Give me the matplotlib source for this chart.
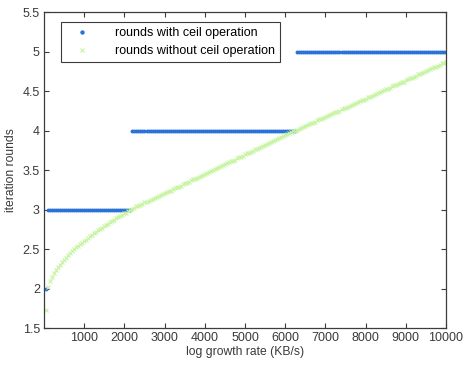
import matplotlib
matplotlib.use("Agg")
import matplotlib.pyplot as plt
import numpy as np

plt.rcParams["font.family"] = ["Liberation Sans", "DejaVu Sans"]

# growth rate samples (KB/s), every 50 from 50 to 10000
rate = np.arange(50, 10001, 50)

# rounds without ceil operation
rounds_raw = [
    1.73, 2.02, 2.09, 2.14, 2.19, 2.23, 2.27, 2.30, 2.33, 2.36,
    2.39, 2.42, 2.45, 2.47, 2.50, 2.52, 2.54, 2.56, 2.58, 2.60,
    2.62, 2.64, 2.66, 2.68, 2.70, 2.72, 2.74, 2.75, 2.77, 2.79,
    2.80, 2.82, 2.84, 2.85, 2.87, 2.89, 2.90, 2.92, 2.93, 2.95,
    2.96, 2.98, 2.99, 3.01, 3.02, 3.04, 3.05, 3.06, 3.07, 3.09,
    3.10, 3.11, 3.12, 3.13, 3.15, 3.16, 3.17, 3.18, 3.19, 3.21,
    3.22, 3.23, 3.24, 3.26, 3.27, 3.28, 3.29, 3.30, 3.32, 3.33,
    3.34, 3.35, 3.37, 3.38, 3.39, 3.40, 3.41, 3.43, 3.44, 3.45,
    3.46, 3.48, 3.49, 3.50, 3.51, 3.52, 3.54, 3.55, 3.56, 3.57,
    3.59, 3.60, 3.61, 3.62, 3.63, 3.65, 3.66, 3.67, 3.68, 3.70,
    3.71, 3.72, 3.73, 3.74, 3.76, 3.77, 3.78, 3.79, 3.81, 3.82,
    3.83, 3.84, 3.86, 3.87, 3.88, 3.89, 3.90, 3.92, 3.93, 3.94,
    3.95, 3.97, 3.98, 3.99, 4.00, 4.01, 4.02, 4.03, 4.05, 4.06,
    4.07, 4.08, 4.09, 4.10, 4.11, 4.13, 4.14, 4.15, 4.16, 4.17,
    4.18, 4.20, 4.21, 4.22, 4.23, 4.24, 4.25, 4.27, 4.28, 4.29,
    4.30, 4.31, 4.32, 4.33, 4.35, 4.36, 4.37, 4.38, 4.39, 4.40,
    4.42, 4.43, 4.44, 4.45, 4.46, 4.47, 4.49, 4.50, 4.51, 4.52,
    4.53, 4.54, 4.56, 4.57, 4.58, 4.59, 4.60, 4.61, 4.62, 4.64,
    4.65, 4.66, 4.67, 4.68, 4.69, 4.71, 4.72, 4.73, 4.74, 4.75,
    4.76, 4.78, 4.79, 4.80, 4.81, 4.82, 4.83, 4.85, 4.86, 4.87,
]

# rounds with ceil operation
rounds_ceil = [
    2, 3, 3, 3, 3, 3, 3, 3, 3, 3,
    3, 3, 3, 3, 3, 3, 3, 3, 3, 3,
    3, 3, 3, 3, 3, 3, 3, 3, 3, 3,
    3, 3, 3, 3, 3, 3, 3, 3, 3, 3,
    3, 3, 3, 4, 4, 4, 4, 4, 4, 4,
    4, 4, 4, 4, 4, 4, 4, 4, 4, 4,
    4, 4, 4, 4, 4, 4, 4, 4, 4, 4,
    4, 4, 4, 4, 4, 4, 4, 4, 4, 4,
    4, 4, 4, 4, 4, 4, 4, 4, 4, 4,
    4, 4, 4, 4, 4, 4, 4, 4, 4, 4,
    4, 4, 4, 4, 4, 4, 4, 4, 4, 4,
    4, 4, 4, 4, 4, 4, 4, 4, 4, 4,
    4, 4, 4, 4, 4, 5, 5, 5, 5, 5,
    5, 5, 5, 5, 5, 5, 5, 5, 5, 5,
    5, 5, 5, 5, 5, 5, 5, 5, 5, 5,
    5, 5, 5, 5, 5, 5, 5, 5, 5, 5,
    5, 5, 5, 5, 5, 5, 5, 5, 5, 5,
    5, 5, 5, 5, 5, 5, 5, 5, 5, 5,
    5, 5, 5, 5, 5, 5, 5, 5, 5, 5,
    5, 5, 5, 5, 5, 5, 5, 5, 5, 5,
]

xticks = [1000, 2000, 3000, 4000, 5000, 6000, 7000, 8000, 9000, 10000]
yticks = [1.5, 2, 2.5, 3, 3.5, 4, 4.5, 5, 5.5]
ylabels = ["1.5", "2", "2.5", "3", "3.5", "4", "4.5", "5", "5.5"]

BLUE = "#2a72d8"
GREEN = "#c6f4a2"
EDGE = "#3c3c3c"
TXT = "#3a3a3a"

fig = plt.figure(figsize=(4.74, 3.66), dpi=100)
ax = fig.add_axes([0.0928, 0.1038, 0.8482, 0.8634])

ax.plot(rate, rounds_ceil, ".", color=BLUE, ms=3.6, label="rounds with ceil operation")
ax.plot(rate, rounds_raw, "x", color=GREEN, ms=2.6, mew=0.8, label="rounds without ceil operation")

ax.set_xlim(0, 10000)
ax.set_ylim(1.5, 5.5)
ax.set_xticks(xticks)
ax.set_yticks(yticks)
ax.set_yticklabels(ylabels)
ax.tick_params(direction="in", length=3.5, width=0.8, colors=EDGE, labelsize=9,
               top=True, right=True, labelcolor=TXT, pad=3)
for s in ax.spines.values():
    s.set_color(EDGE)
    s.set_linewidth(0.9)

ax.set_xlabel("log growth rate (KB/s)", fontsize=8.7, color=TXT, labelpad=1)
ax.set_ylabel("iteration rounds", fontsize=8.7, color=TXT, labelpad=4)

leg = ax.legend(loc="upper left", bbox_to_anchor=(0.042, 0.968), fontsize=9,
                fancybox=False, framealpha=1, edgecolor=EDGE, borderpad=0.4,
                handletextpad=1.3, handlelength=2.6, labelspacing=0.5, borderaxespad=0,
                markerscale=1.2)
leg.get_frame().set_linewidth(0.8)

fig.savefig("out.png", dpi=100)
